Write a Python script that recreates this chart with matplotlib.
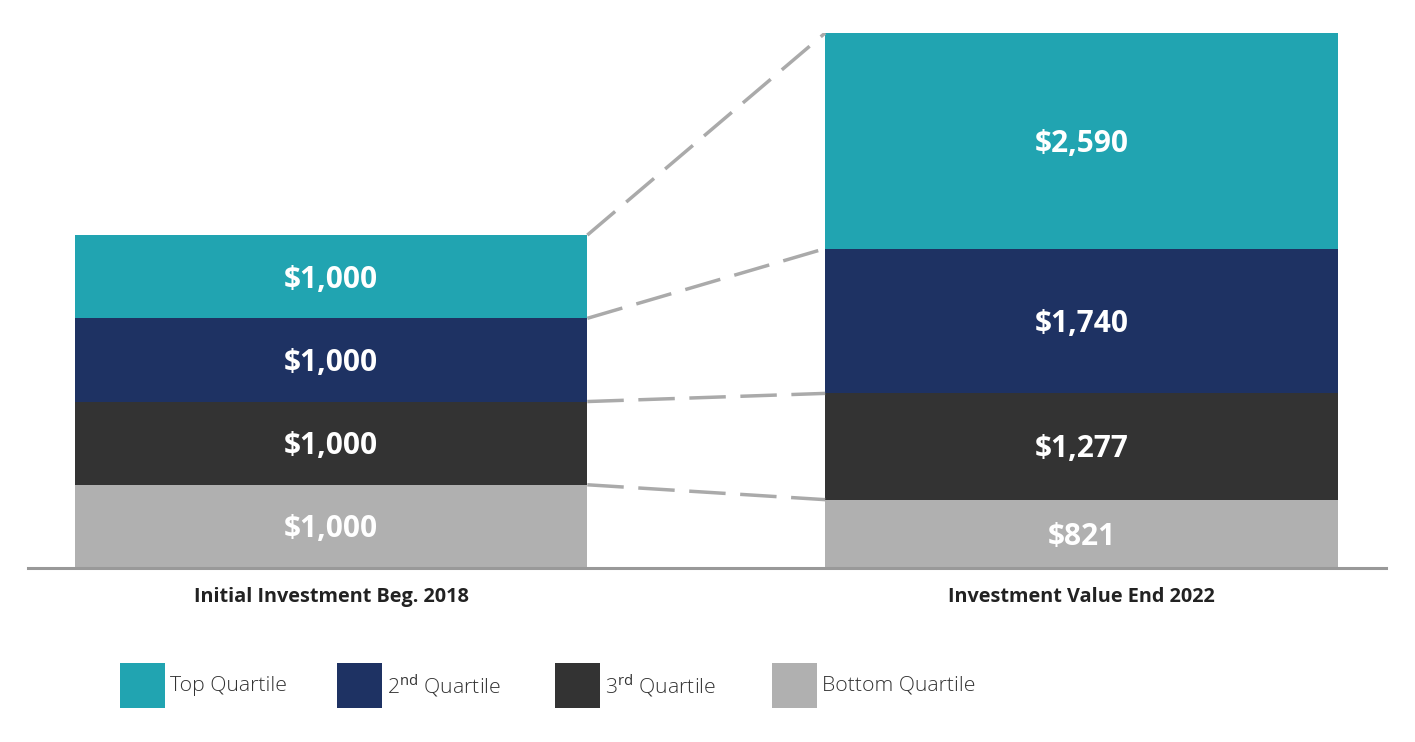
import matplotlib
matplotlib.use('Agg')
import matplotlib.pyplot as plt
from matplotlib.patches import Rectangle
import numpy as np

plt.rcParams['font.family'] = ['Open Sans', 'DejaVu Sans']
plt.rcParams['mathtext.fontset'] = 'custom'
plt.rcParams['mathtext.rm'] = 'Open Sans'

# data
categories = ['Initial Investment Beg. 2018', 'Investment Value End 2022']
series = ['Bottom Quartile', '3$^{\\mathrm{rd}}$ Quartile', '2$^{\\mathrm{nd}}$ Quartile', 'Top Quartile']
bottom_q = [1000, 821]
third_q = [1000, 1277]
second_q = [1000, 1740]
top_q = [1000, 2590]
colors = ['#b0b0b0', '#333333', '#1e3263', '#21a4b1']

values = np.array([bottom_q, third_q, second_q, top_q])

fig = plt.figure(figsize=(14.15, 7.42), dpi=100)
ax = fig.add_axes([28/1415, 1-568/742, (1386-28)/1415, (568-33)/742])

x = np.arange(len(categories))
w = 0.683
base = np.zeros(len(categories))
for i in range(len(values)):
    bars = ax.bar(x, values[i], w, bottom=base, color=colors[i], linewidth=0)
    for j, b in enumerate(bars):
        ax.text(b.get_x() + b.get_width()/2, base[j] + values[i][j]/2 - 35,
                '${:,}'.format(values[i][j]), ha='center', va='center',
                color='white', fontsize=21.5, fontweight='bold')
    base = base + values[i]

# dashed connectors between cumulative levels
cum = np.cumsum(values, axis=0)
for i in range(len(cum)):
    ax.plot([x[0] + w/2, x[1] - w/2], [cum[i][0], cum[i][1]],
            color='#aaaaaa', lw=2.5, dashes=(10.5, 4.2), solid_capstyle='butt')

ax.set_xlim(-0.404, 1.406)
ax.set_ylim(0, cum[-1][1])
for s in ['top', 'right', 'left']:
    ax.spines[s].set_visible(False)
ax.spines['bottom'].set_color('#999999')
ax.spines['bottom'].set_linewidth(2.2)
ax.set_yticks([])
ax.set_xticks(x)
ax.set_xticklabels(categories, fontsize=14.3, fontweight='bold', color='#222222')
ax.tick_params(axis='x', length=0, pad=14)

# legend
leg_x = [120, 337, 555, 772]
leg_order = [3, 2, 1, 0]
for k, idx in enumerate(leg_order):
    fig.patches.append(Rectangle((leg_x[k]/1415, 1-708/742), 45/1415, 45/742,
                                 transform=fig.transFigure, color=colors[idx], linewidth=0))
    fig.text((leg_x[k]+50)/1415, 1-686/742, series[idx], fontsize=15.3,
             color='#333333', va='center', ha='left', fontweight='light')

fig.savefig('out.png', dpi=100)
